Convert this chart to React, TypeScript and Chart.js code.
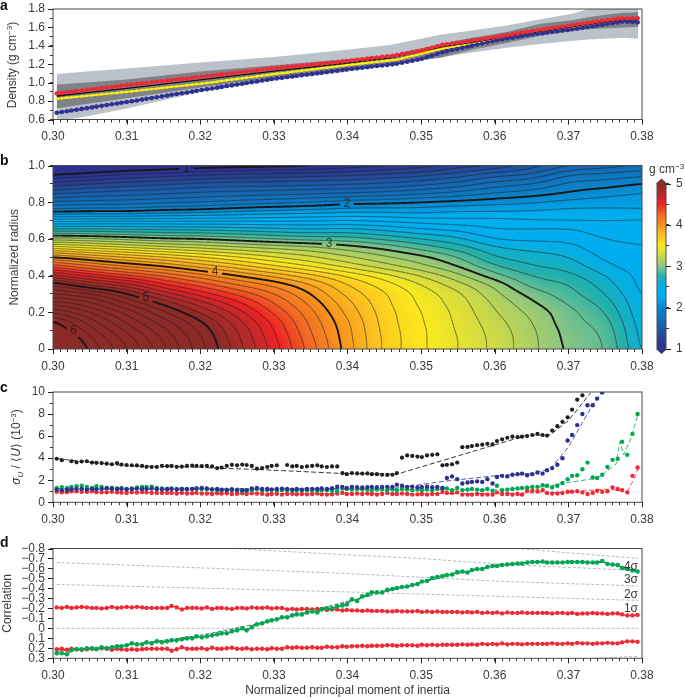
import React, { useEffect, useRef } from "react";
import { Chart, registerables } from "chart.js";

Chart.register(...registerables);
const FONT = "'Liberation Sans', Arial, sans-serif";
Chart.defaults.font.family = FONT;
Chart.defaults.font.size = 12;
Chart.defaults.color = "#3a3a3a";

// ---------- shared x positions of the markers ----------
const pointX = [
  0.3005,0.3012,0.3019,0.3025,0.3032,0.3039,0.3046,0.3053,0.3059,0.3066,
  0.3073,0.3080,0.3087,0.3093,0.3100,0.3107,0.3114,0.3121,0.3127,0.3134,
  0.3141,0.3148,0.3155,0.3161,0.3168,0.3175,0.3182,0.3189,0.3195,0.3202,
  0.3209,0.3216,0.3223,0.3229,0.3236,0.3243,0.3250,0.3257,0.3263,0.3270,
  0.3277,0.3284,0.3291,0.3297,0.3304,0.3311,0.3318,0.3325,0.3331,0.3338,
  0.3345,0.3352,0.3359,0.3365,0.3372,0.3379,0.3386,0.3393,0.3399,0.3406,
  0.3413,0.3420,0.3427,0.3433,0.3440,0.3447,0.3454,0.3461,0.3467,0.3474,
  0.3481,0.3488,0.3495,0.3501,0.3508,0.3515,0.3522,0.3529,0.3535,0.3542,
  0.3549,0.3556,0.3563,0.3569,0.3576,0.3583,0.3590,0.3597,0.3603,0.3610,
  0.3617,0.3624,0.3631,0.3637,0.3644,0.3651,0.3658,0.3665,0.3671,0.3678,
  0.3685,0.3692,0.3699,0.3705,0.3712,0.3719,0.3726,0.3733,0.3739,0.3746,
  0.3753,0.3760,0.3767,0.3773,0.3780,0.3787,0.3794,
];

// ---------- panel a ----------
const densityRed = [
  .883,.889,.896,.902,.909,.915,.921,.928,.934,.941,.947,.953,.960,.966,.973,
  .979,.985,.991,.997,1.004,1.010,1.016,1.022,1.028,1.034,1.040,1.046,1.052,1.058,1.064,
  1.071,1.077,1.084,1.090,1.097,1.103,1.110,1.116,1.123,1.129,1.136,1.142,1.149,1.155,
  1.160,1.166,1.171,1.176,1.181,1.187,1.192,1.197,1.203,1.208,1.213,1.219,1.224,1.229,1.235,
  1.241,1.248,1.254,1.261,1.267,1.274,1.280,1.287,1.293,1.300,
  1.31,1.32,1.33,1.34,1.35,1.365,1.38,1.395,1.41,
  1.418,1.426,1.434,1.442,1.45,1.458,1.466,1.474,1.482,1.49,
  1.499,1.508,1.517,1.526,1.535,1.544,1.553,
  1.561,1.569,1.577,1.585,1.594,1.602,1.610,1.618,1.626,
  1.634,1.641,1.649,1.657,1.665,1.672,1.68,1.687,1.693,1.70,1.70,1.70,1.70,
];
const densityBlue = [
  .673,.681,.690,.698,.706,.715,.723,.732,.740,.748,.757,.765,.773,.782,.79,
  .799,.807,.816,.825,.833,.842,.851,.859,.868,.877,.885,.894,.903,.911,.92,
  .929,.937,.946,.954,.963,.971,.98,.989,.997,1.006,1.014,1.023,1.031,1.04,
  1.047,1.054,1.061,1.068,1.075,1.082,1.088,1.095,1.102,1.109,1.116,1.123,1.13,1.137,1.144,
  1.15,1.156,1.162,1.168,1.175,1.181,1.187,1.193,1.199,1.205,
  1.216,1.227,1.238,1.249,1.26,1.278,1.295,1.313,1.33,
  1.342,1.354,1.366,1.378,1.39,1.402,1.414,1.426,1.438,1.45,
  1.46,1.469,1.479,1.488,1.498,1.507,1.517,
  1.524,1.531,1.538,1.545,1.552,1.559,1.566,1.573,1.58,
  1.588,1.596,1.604,1.613,1.621,1.629,1.637,1.645,1.654,1.662,1.662,1.658,1.655,
];
const densityYellow = [
  .825,.83,.836,.841,.846,.852,.857,.863,.868,.873,.879,.884,.889,.895,.90,
  .906,.912,.918,.924,.93,.936,.942,.948,.954,.96,.966,.972,.978,.984,.99,
  .997,1.004,1.011,1.019,1.026,1.033,1.04,1.047,1.054,1.061,1.069,1.076,1.083,1.09,
  1.097,1.103,1.11,1.117,1.123,1.13,1.137,1.143,1.15,1.157,1.163,1.17,1.177,1.183,1.19,
  1.196,1.202,1.208,1.214,1.22,1.226,1.232,1.238,1.244,1.25,
  1.263,1.277,1.29,1.303,1.317,1.33,1.343,1.357,1.37,
  1.379,1.388,1.397,1.406,1.415,1.424,1.433,1.442,1.451,1.46,
  1.471,1.481,1.492,1.503,1.514,1.524,1.535,
  1.542,1.549,1.557,1.564,1.571,1.578,1.586,1.593,1.60,
  1.606,1.613,1.619,1.626,1.632,1.639,1.645,1.648,1.652,1.655,1.658,1.662,1.665,
];
const bandX = [.3005,.305,.31,.32,.33,.339,.3458,.3526,.3571,.3616,.3662,.3707,.3727,.3752,.3775,.3795];
const outerUpper = [1.093,1.125,1.155,1.22,1.28,1.35,1.41,1.52,1.57,1.62,1.69,1.75,1.80,1.84,1.87,1.88];
const outerLower = [.58,.64,.72,.90,1.02,1.107,1.19,1.274,1.33,1.38,1.42,1.456,1.47,1.48,1.488,1.477];
const innerUpper = [.98,1.005,1.035,1.12,1.19,1.25,1.30,1.42,1.49,1.55,1.64,1.68,1.71,1.74,1.76,1.765];
const innerLower = [.72,.775,.83,.948,1.057,1.135,1.20,1.27,1.36,1.43,1.51,1.56,1.58,1.59,1.60,1.608];
const densityBlack = [.855,.895,.937,1.03,1.125,1.205,1.27,1.385,1.44,1.50,1.555,1.61,1.63,1.66,1.68,1.68];

// ---------- panel b ----------
const gridX = [.30,.305,.31,.315,.32,.325,.33,.335,.34,.345,.35,.355,.36,.365,.37,.375,.38];
const gridR = [0,.05,.1,.15,.2,.25,.3,.35,.4,.45,.5,.55,.6,.65,.7,.75,.8,.85,.9,.95,1];
const rhoGrid = [
  [6.25,6.2,6.1,6.0,5.78,5.55,5.3,5.08,4.72,4.36,4.0,3.58,3.15,2.74,2.36,1.98,1.72,1.48,1.24,1.0,.78],
  [5.98,5.93,5.85,5.75,5.6,5.42,5.21,4.89,4.56,4.22,3.9,3.5,3.12,2.73,2.37,2.0,1.74,1.52,1.3,1.05,.83],
  [5.7,5.66,5.58,5.48,5.36,5.19,5.01,4.75,4.42,4.1,3.8,3.43,3.07,2.72,2.38,2.0,1.75,1.55,1.34,1.11,.87],
  [5.42,5.39,5.33,5.24,5.12,4.97,4.76,4.52,4.28,4.0,3.71,3.36,3.02,2.7,2.38,2.04,1.78,1.58,1.38,1.15,.9],
  [5.14,5.12,5.08,5.01,4.89,4.74,4.56,4.36,4.14,3.87,3.61,3.3,3.0,2.69,2.38,2.06,1.8,1.62,1.42,1.19,.94],
  [4.85,4.83,4.8,4.74,4.65,4.53,4.38,4.2,4.0,3.75,3.51,3.24,2.95,2.67,2.38,2.1,1.84,1.64,1.44,1.22,.96],
  [4.55,4.53,4.5,4.46,4.38,4.3,4.2,4.07,3.87,3.62,3.41,3.19,2.9,2.64,2.38,2.13,1.87,1.66,1.45,1.24,.98],
  [4.25,4.23,4.2,4.17,4.13,4.07,4.0,3.9,3.73,3.5,3.32,3.14,2.86,2.62,2.39,2.15,1.9,1.68,1.47,1.26,1.0],
  [3.95,3.94,3.93,3.91,3.87,3.83,3.77,3.7,3.58,3.37,3.22,3.06,2.85,2.63,2.4,2.18,1.95,1.7,1.49,1.28,1.05],
  [3.68,3.68,3.67,3.66,3.65,3.63,3.61,3.55,3.44,3.25,3.12,2.98,2.78,2.58,2.38,2.18,1.97,1.73,1.52,1.32,1.1],
  [3.52,3.52,3.52,3.51,3.5,3.48,3.46,3.4,3.29,3.13,3.03,2.87,2.7,2.52,2.35,2.17,2.0,1.78,1.57,1.37,1.16],
  [3.4,3.4,3.39,3.38,3.37,3.35,3.32,3.24,3.13,3.0,2.9,2.76,2.62,2.48,2.33,2.2,2.03,1.83,1.64,1.45,1.25],
  [3.27,3.27,3.26,3.24,3.21,3.18,3.13,3.07,2.94,2.82,2.71,2.62,2.5,2.41,2.33,2.2,2.06,1.9,1.74,1.56,1.33],
  [3.13,3.13,3.12,3.1,3.07,3.02,2.96,2.87,2.8,2.71,2.65,2.57,2.48,2.41,2.31,2.21,2.09,1.95,1.8,1.62,1.46],
  [2.98,2.97,2.96,2.94,2.93,2.89,2.84,2.8,2.73,2.66,2.6,2.54,2.47,2.41,2.3,2.23,2.13,2.01,1.92,1.79,1.6],
  [2.9,2.89,2.87,2.84,2.8,2.75,2.7,2.65,2.6,2.53,2.48,2.44,2.4,2.35,2.3,2.23,2.15,2.06,1.95,1.83,1.66],
  [2.6,2.58,2.57,2.55,2.53,2.52,2.5,2.48,2.47,2.45,2.43,2.41,2.38,2.34,2.31,2.22,2.16,2.1,2.0,1.87,1.72],
];
const colorLevels = [1,1.25,1.5,1.75,2,2.25,2.5,2.75,3,3.25,3.5,3.75,4,4.25,4.5,4.75,5];
const colorValues = ["#2e3192","#29418f","#1c5ca8","#1270b8","#0a85cc","#00aeef","#00aeef","#22b0ac","#8cc680","#c8d84b","#fbe91e","#fbc020","#f7941d","#f26a24","#ed2224","#b52a2a","#8b2a26"];
const contourLabels = [
  { text: "1", x: .3181, r: .98 },
  { text: "2", x: .3399, r: .79 },
  { text: "3", x: .3375, r: .572 },
  { text: "4", x: .322, r: .42 },
  { text: "5", x: .3126, r: .278 },
  { text: "6", x: .3028, r: .098 },
];

// ---------- panel c ----------
const sigmaBlack = [
  3.95,3.82,null,3.72,3.62,3.7,3.72,3.6,3.58,3.56,
  3.5,3.45,3.55,3.42,3.38,3.36,3.34,3.3,3.22,3.2,
  3.2,3.3,3.28,3.3,3.22,3.24,3.3,3.32,3.3,3.28,
  3.3,3.25,3.1,3.15,3.3,3.4,3.35,3.42,3.38,3.3,
  3.05,3.1,3.2,3.3,3.35,null,3.38,3.25,3.3,3.2,
  3.25,3.3,3.35,3.25,3.2,3.25,3.25,2.65,2.55,2.65,
  2.62,2.6,2.62,2.55,2.55,2.5,2.48,2.5,2.65,4.05,
  4.25,4.2,4.15,4.1,4.25,4.3,4.35,3.35,3.4,3.45,
  3.6,5.0,5.02,5.1,5.18,5.22,5.3,5.25,5.55,5.7,
  5.85,5.95,5.9,5.95,6.0,6.1,6.2,6.1,6.05,6.5,
  6.9,7.3,7.7,8.4,9.3,9.7,null,null,null,null,
  null,null,null,null,null,null,null,
];
const sigmaBlue = [
  1.15,1.1,1.12,1.18,1.2,1.22,1.15,1.22,1.18,1.22,
  1.28,1.24,1.2,1.22,1.18,1.2,1.24,1.2,1.22,1.25,
  1.2,1.18,1.2,1.22,1.16,1.2,1.18,1.22,1.25,1.3,
  1.26,1.18,1.2,1.15,1.1,1.18,1.1,1.12,1.1,1.25,
  1.3,1.2,1.22,1.15,1.2,1.24,1.2,1.15,1.2,1.15,
  1.2,1.22,1.2,1.25,1.2,1.28,1.42,1.4,1.3,1.4,
  1.38,1.35,1.38,1.4,1.38,1.4,1.4,1.4,1.6,1.5,
  1.4,1.42,1.35,1.38,1.42,1.36,1.4,1.3,2.2,2.35,
  2.1,1.7,1.8,1.85,1.9,1.85,2.1,1.7,2.3,2.4,
  2.35,2.5,2.55,2.6,2.45,2.55,2.7,2.6,2.9,3.1,
  3.4,4.0,5.6,6.1,7.0,8.0,8.8,8.8,9.4,9.95,
  null,null,null,null,null,null,null,
];
const sigmaGreen = [
  1.3,1.38,1.3,1.4,1.45,1.5,1.4,1.3,1.45,1.4,
  1.3,1.32,1.25,1.3,1.2,1.25,1.35,1.4,1.4,1.42,
  1.3,1.25,1.2,1.25,1.2,1.2,1.22,1.2,1.25,1.2,
  1.2,1.15,1.1,1.1,1.15,1.1,1.15,1.0,1.05,1.1,
  1.2,1.1,1.1,1.15,1.05,1.1,1.1,1.1,1.05,1.1,
  1.1,1.1,1.05,1.1,1.1,1.05,1.0,1.25,1.2,1.15,
  1.2,1.15,1.15,1.1,1.15,1.15,1.1,1.15,1.1,1.2,
  1.15,1.1,1.15,1.1,1.15,1.1,1.2,1.3,1.25,1.1,
  1.3,1.1,1.15,1.2,1.15,1.1,1.2,1.05,1.5,1.1,
  1.15,1.2,1.25,1.3,1.35,1.4,1.4,1.55,1.5,1.35,
  1.5,1.75,2.1,2.4,2.45,3.0,3.6,2.25,2.2,2.5,
  3.2,3.85,3.95,5.5,4.3,6.2,8.0,
];
const sigmaRed = [
  .95,.9,.92,1.0,1.0,.95,.95,1.0,.92,.9,
  .9,.95,.9,.88,.85,.9,.88,.92,.9,.85,
  .85,.85,.85,.85,.8,.85,.8,.82,.85,.8,
  .8,.75,.82,.8,.82,.75,.78,.82,.75,.82,
  .8,.78,.7,.75,.78,.7,.75,.78,.72,.75,
  .72,.75,.8,.72,.7,.72,.8,.85,.75,.75,
  .8,.75,.8,.75,.7,.75,.85,.75,.75,.8,
  .75,.7,.72,.75,.7,.75,.75,.95,.85,.85,
  .9,.7,.7,.7,.75,.7,.7,.7,.9,.75,
  .75,.7,.75,.7,1.05,1.05,1.0,1.1,.85,.8,
  .8,.85,.95,.95,1.0,.9,.75,.85,1.05,.95,
  1.0,1.35,1.2,1.1,.9,2.4,3.15,
];
const fitBlackX = [.3005,.31,.32,.3215,.327,.335,.339,.3467,.3645,.3675,.37,.373];
const fitBlackY = [3.95,3.3,3.2,3.1,3.0,2.75,2.62,2.55,6.1,6.1,7.4,9.9];
const fitBlueX = [.3005,.33,.3467,.353,.36,.365,.3675,.37,.373,.3745];
const fitBlueY = [1.2,1.2,1.3,1.9,2.4,2.6,3,5,8.5,10];
const fitGreenX = [.3005,.35,.36,.367,.3695,.374,.3765,.377,.3775,.3785,.3795];
const fitGreenY = [1.25,1.15,1.15,1.4,1.75,2.2,3.5,5.5,4.3,5.8,8.1];
const fitRedX = [.3005,.33,.36,.37,.375,.378,.379,.3795];
const fitRedY = [.95,.8,.8,.9,1.2,1.0,2.2,3.15];

// ---------- panel d ----------
const corrGreen = [
  .25,.25,.26,.22,.21,.21,.2,.2,.21,.19,
  .2,.19,.18,.18,.17,.15,.16,.16,.14,.15,
  .13,.14,.13,.12,.12,.11,.1,.1,.08,.09,
  .08,.07,.06,.05,.05,.03,.02,.0,.02,-.01,
  -.04,-.05,-.07,-.08,-.09,-.11,-.11,-.13,-.14,-.14,
  -.16,-.17,-.16,-.19,-.2,-.2,-.22,-.23,-.24,-.29,
  -.275,-.32,-.335,-.36,-.36,-.36,-.385,-.395,-.405,-.415,
  -.42,-.435,-.445,-.47,-.475,-.505,-.515,-.525,-.535,-.54,
  -.565,-.57,-.56,-.585,-.595,-.595,-.615,-.625,-.625,-.635,
  -.64,-.645,-.65,-.65,-.66,-.665,-.665,-.67,-.66,-.66,
  -.66,-.66,-.665,-.665,-.665,-.665,-.66,-.66,-.66,-.675,
  -.645,-.64,-.635,-.605,-.595,-.58,-.57,
];
const corrRedUpper = [
  -.21,-.205,-.215,-.205,-.21,-.215,-.21,-.205,-.205,-.2,
  -.205,-.215,-.205,-.21,-.215,-.21,-.215,-.21,-.205,-.205,
  -.205,-.205,-.205,-.225,-.21,-.19,-.205,-.205,-.205,-.2,
  -.21,-.195,-.205,-.205,-.2,-.195,-.205,-.205,-.2,-.21,
  -.205,-.205,-.21,-.2,-.205,-.205,-.19,-.195,-.19,-.195,
  -.195,-.19,-.195,-.195,-.185,-.19,-.19,-.18,-.185,-.18,
  -.18,-.175,-.18,-.175,-.175,-.175,-.17,-.17,-.175,-.17,
  -.17,-.17,-.175,-.165,-.17,-.165,-.17,-.165,-.165,-.165,
  -.165,-.16,-.165,-.16,-.165,-.155,-.16,-.155,-.16,-.15,
  -.16,-.155,-.155,-.16,-.155,-.155,-.155,-.155,-.155,-.15,
  -.155,-.155,-.15,-.155,-.145,-.15,-.15,-.155,-.15,-.15,
  -.145,-.15,-.15,-.14,-.13,-.13,-.135,
];
const corrRedLower = [
  .21,.205,.215,.205,.21,.215,.21,.205,.205,.2,
  .205,.215,.205,.21,.215,.21,.215,.21,.205,.205,
  .205,.205,.205,.225,.21,.19,.205,.205,.205,.2,
  .21,.195,.205,.205,.2,.195,.205,.205,.2,.21,
  .205,.205,.21,.2,.205,.205,.19,.195,.19,.195,
  .195,.19,.195,.195,.185,.19,.19,.18,.185,.18,
  .18,.175,.18,.175,.175,.175,.17,.17,.175,.17,
  .17,.17,.175,.165,.17,.165,.17,.165,.165,.165,
  .165,.16,.165,.16,.165,.155,.16,.155,.16,.15,
  .16,.155,.155,.16,.155,.155,.155,.155,.155,.15,
  .155,.155,.15,.155,.145,.15,.15,.155,.15,.15,
  .145,.15,.15,.14,.13,.13,.135,
];
const corrFitX = [.3005,.31,.32,.33,.34,.35,.36,.365,.37,.375,.3795];
const corrFitY = [.23,.17,.07,-.08,-.27,-.46,-.63,-.66,-.66,-.66,-.57];
const sigmaLines = [
  { x: [.3735,.3795], y: [.3,.28] },
  { x: [.3005,.3795], y: [0,0] },
  { x: [.3005,.34,.3795], y: [-.44,-.365,-.28] },
  { x: [.3005,.339,.3612,.3795], y: [-.66,-.553,-.47,-.425] },
  { x: [.3245,.339,.3500,.3612,.3795], y: [-.8,-.74,-.70,-.64,-.58] },
  { x: [.3630,.3795], y: [-.8,-.70] },
];
const sigmaNotes = [
  { text: "4σ", x: .3785, y: -.62 },
  { text: "3σ", x: .3785, y: -.485 },
  { text: "2σ", x: .3785, y: -.34 },
  { text: "1σ", x: .3785, y: -.2 },
];
const xMajorTicks = [.30,.31,.32,.33,.34,.35,.36,.37,.38];

// ---------- helpers ----------
const RED = "#ed2a35", BLUE = "#2e3192", YELLOW = "#fff200", GREEN = "#00a651", BLACK = "#231f20";
const zip = (xs: number[], ys: any[]) => xs.map((x, i) => ({ x, y: ys[i] }));
const marks = (data: any[], color: string, radius: number, order: number) => ({
  data, type: "line", showLine: false, pointRadius: radius, pointBackgroundColor: color,
  pointBorderWidth: 0, order,
});
const beads = (data: any[], color: string, radius: number, order: number, width: number) => ({
  ...marks(data, color, radius, order), showLine: true, borderColor: color, borderWidth: width, tension: 0,
});
const trace = (data: any[], color: string, width: number, order: number, dash: number[] = []) => ({
  data, type: "line", borderColor: color, borderWidth: width, borderDash: dash, pointRadius: 0, tension: 0, order,
});

const hexRgb = (h: string) => [parseInt(h.slice(1, 3), 16), parseInt(h.slice(3, 5), 16), parseInt(h.slice(5, 7), 16)];
const colorRgb = colorValues.map(hexRgb);
function colorFor(v: number) {
  const n = colorLevels.length;
  if (v <= colorLevels[0]) return colorRgb[0];
  if (v >= colorLevels[n - 1]) return colorRgb[n - 1];
  let i = 0;
  while (v > colorLevels[i + 1]) i++;
  const t = (v - colorLevels[i]) / (colorLevels[i + 1] - colorLevels[i]);
  return colorRgb[i].map((c, k) => c + (colorRgb[i + 1][k] - c) * t);
}
function locate(axis: number[], v: number) {
  let i = 0;
  while (i < axis.length - 2 && v > axis[i + 1]) i++;
  return [i, (v - axis[i]) / (axis[i + 1] - axis[i])];
}
const cubic = (a: number, b: number, c: number, d: number, t: number) =>
  b + 0.5 * t * (c - a + t * (2 * a - 5 * b + 4 * c - d + t * (3 * (b - c) + d - a)));
function sampleRho(x: number, r: number) {
  const [i, tx] = locate(gridX, x);
  const [j, tr] = locate(gridR, r);
  const col = (n: number) => {
    const c = rhoGrid[Math.max(0, Math.min(gridX.length - 1, n))];
    const at = (m: number) => c[Math.max(0, Math.min(gridR.length - 1, m))];
    return cubic(at(j - 1), at(j), at(j + 1), at(j + 2), tr);
  };
  return cubic(col(i - 1), col(i), col(i + 1), col(i + 2), tx);
}
// smooths the shading between the table's nodes so contours do not step at each node
function boxPass(src: Float32Array, w: number, h: number, rad: number, horizontal: boolean) {
  const out = new Float32Array(src.length);
  const lenA = horizontal ? h : w, lenB = horizontal ? w : h;
  const idx = (a: number, b: number) => (horizontal ? a * w + b : b * w + a);
  for (let a = 0; a < lenA; a++) {
    for (let b = 0; b < lenB; b++) {
      const rr = Math.min(rad, b, lenB - 1 - b);
      let sum = 0;
      for (let k = -rr; k <= rr; k++) sum += src[idx(a, b + k)];
      out[idx(a, b)] = sum / (2 * rr + 1);
    }
  }
  return out;
}

// frame around the plot, plus a longer mark on each labelled tick
const framePlugin = {
  id: "frame",
  afterDatasetsDraw(chart: any) {
    const { ctx, chartArea: a } = chart;
    ctx.save();
    ctx.strokeStyle = "#4a4a4a";
    ctx.lineWidth = 1;
    ctx.strokeRect(a.left, a.top, a.right - a.left, a.bottom - a.top);
    ctx.strokeStyle = "#222222";
    ctx.lineWidth = 1;
    for (const id of Object.keys(chart.scales)) {
      const s = chart.scales[id];
      if (s.options.display === false) continue;
      for (const t of s.ticks) {
        if (t.label === "") continue;
        const p = Math.round(s.getPixelForValue(t.value)) + 0.5;
        ctx.beginPath();
        if (s.axis === "x") { ctx.moveTo(p, a.bottom); ctx.lineTo(p, a.bottom + 5); }
        else if (s.position === "right") { ctx.moveTo(a.right, p); ctx.lineTo(a.right + 5, p); }
        else { ctx.moveTo(a.left, p); ctx.lineTo(a.left - 5, p); }
        ctx.stroke();
      }
    }
    ctx.restore();
  },
};

const heatPlugin = {
  id: "heat",
  beforeDatasetsDraw(chart: any) {
    const { ctx, chartArea: a, scales } = chart;
    const xs = scales.x, ys = scales.y;
    const W = Math.round(a.right - a.left), H = Math.round(a.bottom - a.top);
    let field: any = new Float32Array((W + 1) * (H + 1));
    for (let j = 0; j <= H; j++) {
      const r = ys.getValueForPixel(a.top + (j / H) * (a.bottom - a.top));
      for (let i = 0; i <= W; i++) {
        const x = xs.getValueForPixel(a.left + (i / W) * (a.right - a.left));
        field[j * (W + 1) + i] = sampleRho(x, r);
      }
    }
    for (let pass = 0; pass < 2; pass++) {
      field = boxPass(field, W + 1, H + 1, 10, true);
      field = boxPass(field, W + 1, H + 1, 3, false);
    }
    const off = document.createElement("canvas");
    off.width = W; off.height = H;
    const oc = off.getContext("2d")!;
    const img = oc.createImageData(W, H);
    for (let j = 0; j < H; j++) for (let i = 0; i < W; i++) {
      const c = colorFor(field[j * (W + 1) + i]);
      const o = (j * W + i) * 4;
      img.data[o] = c[0]; img.data[o + 1] = c[1]; img.data[o + 2] = c[2]; img.data[o + 3] = 255;
    }
    oc.putImageData(img, 0, 0);
    ctx.drawImage(off, a.left, a.top, a.right - a.left, a.bottom - a.top);

    const thin = new Path2D(), bold = new Path2D();
    const sx = (a.right - a.left) / W, sy = (a.bottom - a.top) / H;
    for (let j = 0; j < H; j++) for (let i = 0; i < W; i++) {
      const k = j * (W + 1) + i;
      const v = [field[k], field[k + 1], field[k + W + 2], field[k + W + 1]];
      const lo = Math.min(...v), hi = Math.max(...v);
      for (let n = Math.max(10, Math.ceil(lo * 10)); n <= Math.min(60, Math.floor(hi * 10)); n++) {
        const lev = n / 10;
        const pts: number[][] = [];
        const corner = [[i, j], [i + 1, j], [i + 1, j + 1], [i, j + 1]];
        for (let e = 0; e < 4; e++) {
          const f = (e + 1) % 4;
          if ((v[e] < lev) !== (v[f] < lev)) {
            const t = (lev - v[e]) / (v[f] - v[e]);
            pts.push([
              a.left + sx * (corner[e][0] + t * (corner[f][0] - corner[e][0])),
              a.top + sy * (corner[e][1] + t * (corner[f][1] - corner[e][1])),
            ]);
          }
        }
        if (pts.length >= 2) {
          const path = n % 10 === 0 ? bold : thin;
          path.moveTo(pts[0][0], pts[0][1]); path.lineTo(pts[1][0], pts[1][1]);
          if (pts.length === 4) { path.moveTo(pts[2][0], pts[2][1]); path.lineTo(pts[3][0], pts[3][1]); }
        }
      }
    }
    ctx.save();
    ctx.beginPath();
    ctx.rect(a.left, a.top, a.right - a.left, a.bottom - a.top);
    ctx.clip();
    ctx.lineCap = "round";
    ctx.strokeStyle = "rgba(35,35,40,0.5)";
    ctx.lineWidth = 0.65;
    ctx.stroke(thin);
    ctx.save();
    ctx.beginPath();
    ctx.rect(a.left, a.top, a.right - a.left, a.bottom - a.top);
    for (const l of contourLabels) {
      ctx.rect(xs.getPixelForValue(l.x) - 7, ys.getPixelForValue(l.r) - 6, 14, 12);
    }
    ctx.clip("evenodd");
    ctx.strokeStyle = "#181818";
    ctx.lineWidth = 1.9;
    ctx.stroke(bold);
    ctx.restore();
    ctx.fillStyle = "rgba(25,25,35,0.8)";
    ctx.font = `12px ${FONT}`;
    ctx.textAlign = "center";
    ctx.textBaseline = "middle";
    for (const l of contourLabels) ctx.fillText(l.text, xs.getPixelForValue(l.x), ys.getPixelForValue(l.r));
    ctx.restore();
  },
};

const colorBarPlugin = {
  id: "colorbar",
  beforeDatasetsDraw(chart: any) {
    const { ctx, chartArea: a, scales } = chart;
    const y = scales.y;
    const g = ctx.createLinearGradient(0, a.bottom, 0, a.top);
    colorLevels.forEach((l, i) => {
      g.addColorStop((y.getPixelForValue(l) - a.bottom) / (a.top - a.bottom), colorValues[i]);
    });
    ctx.fillStyle = g;
    ctx.fillRect(a.left, a.top, a.right - a.left, a.bottom - a.top);
    const mid = (a.left + a.right) / 2;
    ctx.fillStyle = colorValues[colorValues.length - 1];
    ctx.beginPath(); ctx.moveTo(a.left - 1, a.top); ctx.lineTo(a.right + 1, a.top); ctx.lineTo(mid, a.top - 5); ctx.fill();
    ctx.fillStyle = colorValues[0];
    ctx.beginPath(); ctx.moveTo(a.left - 1, a.bottom); ctx.lineTo(a.right + 1, a.bottom); ctx.lineTo(mid, a.bottom + 5); ctx.fill();
  },
};

const notesPlugin = {
  id: "notes",
  afterDatasetsDraw(chart: any) {
    const { ctx, scales } = chart;
    ctx.save();
    ctx.fillStyle = "#3a3a3a";
    ctx.font = `12px ${FONT}`;
    ctx.textAlign = "center";
    ctx.textBaseline = "middle";
    for (const n of sigmaNotes) ctx.fillText(n.text, scales.x.getPixelForValue(n.x), scales.y.getPixelForValue(n.y));
    ctx.restore();
  },
};

const tickGrid = { drawOnChartArea: false, drawTicks: true, tickLength: 3, tickColor: "#333333", tickWidth: 1, color: "#333333" };
// the plot rectangle is set by layout padding alone, so tick labels must not add to it
const clearPadding = (s: any) => { s.paddingTop = 0; s.paddingBottom = 0; s.paddingLeft = 0; s.paddingRight = 0; };

function xScale(height: number, title?: string) {
  return {
    type: "linear", min: 0.3, max: 0.38,
    afterFit: (s: any) => { s.height = height; clearPadding(s); },
    grid: tickGrid,
    border: { display: false },
    title: title ? { display: true, text: title, font: { size: 12 }, color: "#3a3a3a", padding: { top: 0, bottom: 1 } } : { display: false },
    ticks: {
      stepSize: 0.001, autoSkip: false, maxRotation: 0, minRotation: 0, padding: 7,
      callback: (v: number) => {
        const hit = xMajorTicks.find((m) => Math.abs(m - v) < 1e-6);
        return hit !== undefined ? hit.toFixed(2) : "";
      },
    },
  };
}
function yScale(min: number, max: number, step: number, label: (v: number) => string, extra: any = {}) {
  return {
    type: "linear", min, max,
    afterFit: (s: any) => { s.width = 53; clearPadding(s); },
    grid: tickGrid,
    border: { display: false },
    ticks: { stepSize: step, autoSkip: false, padding: 5, callback: label },
    ...extra,
  };
}
const tenths = (v: number) => Math.round(v * 10);
const evenTenths = (v: number) => (tenths(v) % 2 === 0 ? (tenths(v) === 0 ? "0" : (tenths(v) / 10).toFixed(1)) : "");
const signedTenths = (v: number) => {
  const n = tenths(v);
  if (n === 0) return "0";
  return (n < 0 ? "\u2212" : "") + (Math.abs(n) / 10).toFixed(1);
};

function baseOptions(top: number, scales: any): any {
  return {
    responsive: false, animation: false, maintainAspectRatio: false,
    layout: { autoPadding: false, padding: { left: 0, top, right: 43, bottom: 0 } },
    plugins: { legend: { display: false }, tooltip: { enabled: false } },
    scales,
  };
}

const pa = pointX;
const configs: any[] = [
  {
    box: { top: 0, left: 0, width: 685, height: 145 },
    config: {
      type: "line",
      data: { datasets: [
        { ...trace(zip(bandX, outerUpper), "transparent", 0, 20), fill: "+1", backgroundColor: "#bcc2c9" },
        trace(zip(bandX, outerLower), "transparent", 0, 21),
        { ...trace(zip(bandX, innerUpper), "transparent", 0, 18), fill: "+1", backgroundColor: "#7f8388" },
        trace(zip(bandX, innerLower), "transparent", 0, 19),
        beads(zip(pa, densityYellow), YELLOW, 1.4, 5, 1.8),
        trace(zip(bandX, densityBlack), "#111111", 1.3, 4),
        beads(zip(pa, densityBlue), BLUE, 2.3, 3, 2),
        beads(zip(pa, densityRed), RED, 2.3, 2, 2),
      ] },
      options: baseOptions(9, {
        x: xScale(145 - 119.5),
        y: yScale(0.6, 1.8, 0.1, evenTenths),
      }),
      plugins: [framePlugin],
    },
  },
  {
    box: { top: 145, left: 0, width: 685, height: 230 },
    config: {
      type: "line",
      data: { datasets: [
        { data: gridX.flatMap((x, i) => gridR.map((r, j) => ({ x, y: r, v: rhoGrid[i][j] }))), showLine: false, pointRadius: 0 },
      ] },
      options: baseOptions(20.5, {
        x: xScale(230 - 204),
        y: yScale(0, 1, 0.1, evenTenths, {
          title: { display: true, text: "Normalized radius", font: { size: 12 }, color: "#3a3a3a", padding: { top: 7, bottom: 0 } },
        }),
      }),
      plugins: [heatPlugin, framePlugin],
    },
  },
  {
    box: { top: 165, left: 640, width: 45, height: 195 },
    config: {
      type: "line",
      data: { datasets: [{ data: zip(colorLevels, colorLevels), showLine: false, pointRadius: 0 }] },
      options: {
        responsive: false, animation: false, maintainAspectRatio: false,
        layout: { autoPadding: false, padding: { left: 17, top: 18.5, right: 0, bottom: 11 } },
        plugins: { legend: { display: false }, tooltip: { enabled: false } },
        scales: {
          x: { type: "linear", display: false, min: 1, max: 5 },
          y: {
            type: "linear", position: "right", min: 1, max: 5,
            afterFit: (s: any) => { s.width = 19; clearPadding(s); },
            grid: tickGrid,
            border: { display: false },
            ticks: {
              stepSize: 0.5, autoSkip: false, padding: 7,
              callback: (v: number) => (Number.isInteger(v) ? String(v) : ""),
            },
          },
        },
      },
      plugins: [colorBarPlugin, framePlugin],
    },
  },
  {
    box: { top: 375, left: 0, width: 685, height: 150 },
    config: {
      type: "line",
      data: { datasets: [
        trace(zip(fitBlackX, fitBlackY), "#222222", 0.9, 14, [5, 2.5]),
        trace(zip(fitBlueX, fitBlueY), BLUE, 0.8, 13, [5, 2.5]),
        trace(zip(fitGreenX, fitGreenY), GREEN, 0.8, 12, [5, 2.5]),
        trace(zip(fitRedX, fitRedY), RED, 0.8, 11, [5, 2.5]),
        marks(zip(pa, sigmaRed), RED, 2.2, 4),
        marks(zip(pa, sigmaGreen), GREEN, 2.2, 3),
        marks(zip(pa, sigmaBlue), BLUE, 2.2, 2),
        marks(zip(pa, sigmaBlack), BLACK, 2.1, 1),
      ] },
      options: baseOptions(17, {
        x: xScale(150 - 127.3),
        y: yScale(0, 10, 1, (v: number) => (Math.round(v) % 2 === 0 ? String(Math.round(v)) : "")),
      }),
      plugins: [framePlugin],
    },
  },
  {
    box: { top: 525, left: 0, width: 685, height: 174 },
    config: {
      type: "line",
      data: { datasets: [
        ...sigmaLines.map((l, i) => trace(zip(l.x, l.y), "#9a9a9a", 0.7, 20 + i, [3, 2])),
        trace(zip(corrFitX, corrFitY), "#444444", 0.8, 10, [4, 2]),
        beads(zip(pa, corrRedUpper), RED, 2.2, 4, 1.5),
        beads(zip(pa, corrRedLower), RED, 2.2, 3, 1.5),
        beads(zip(pa, corrGreen), GREEN, 2.3, 2, 1.5),
      ] },
      options: baseOptions(23.5, {
        x: xScale(174 - 133.3, "Normalized principal moment of inertia"),
        y: yScale(-0.8, 0.3, 0.1, signedTenths, {
          reverse: true,
          title: { display: true, text: "Correlation", font: { size: 12 }, color: "#3a3a3a", padding: { top: 0, bottom: 0 } },
        }),
      }),
      plugins: [notesPlugin, framePlugin],
    },
  },
];

const sup: React.CSSProperties = { fontSize: 8, position: "relative", top: -4 };
const sub: React.CSSProperties = { fontSize: 8, position: "relative", top: 3, fontStyle: "italic" };
const textStyle: React.CSSProperties = {
  position: "absolute", fontFamily: FONT, fontSize: 12, lineHeight: 1, color: "#3a3a3a", whiteSpace: "nowrap",
};
const vertical = (x: number, y: number): React.CSSProperties => ({
  ...textStyle, left: x, top: y, transform: "translate(-50%, -50%) rotate(-90deg)",
});
const panelLetter = (y: number): React.CSSProperties => ({
  ...textStyle, left: 0, top: y, fontWeight: 700, fontSize: 14, color: "#111",
});

function Panel({ box, config }: { box: any; config: any }) {
  const ref = useRef<HTMLCanvasElement>(null);
  useEffect(() => {
    const chart = new Chart(ref.current as any, config);
    return () => chart.destroy();
  }, []);
  return (
    <canvas
      ref={ref}
      width={box.width}
      height={box.height}
      style={{ position: "absolute", left: box.left, top: box.top, width: box.width, height: box.height }}
    />
  );
}

export default function App() {
  return (
    <div style={{ position: "absolute", left: 0, top: 0, width: 685, height: 699, overflow: "hidden", background: "#fff" }}>
      {configs.map((c, i) => <Panel key={i} box={c.box} config={c.config} />)}
      <div style={panelLetter(-2)}>a</div>
      <div style={panelLetter(153)}>b</div>
      <div style={panelLetter(380)}>c</div>
      <div style={panelLetter(535)}>d</div>
      <div style={vertical(12, 65)}>Density (g cm<span style={sup}>−3</span>)</div>
      <div style={vertical(16, 447)}>
        <i>σ</i><span style={sub}>U</span> / ⟨<i>U</i>⟩ (10<span style={sup}>−3</span>)
      </div>
      <div style={{ ...textStyle, left: 649, top: 163 }}>g cm<span style={sup}>−3</span></div>
    </div>
  );
}
